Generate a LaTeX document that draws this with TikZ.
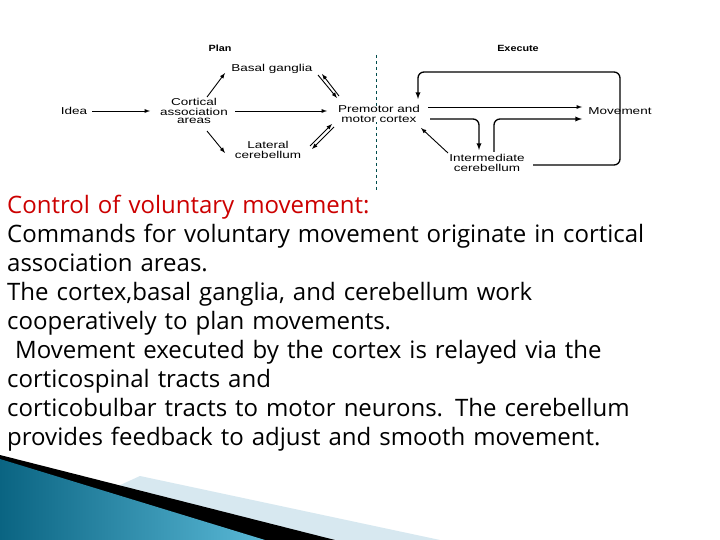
\documentclass[tikz,border=0pt]{standalone}
\usepackage{fontspec}
\setmainfont{Open Sans}
\newfontfamily\dfont{Liberation Sans}
\newcommand{\sx}[1]{\scalebox{1.35}[1]{\shortstack{#1}}}
\definecolor{tealA}{RGB}{10,100,130}
\definecolor{tealB}{RGB}{90,185,215}
\definecolor{paleB}{RGB}{215,232,240}
\begin{document}
\begin{tikzpicture}[x=1pt,y=-1pt,
  lbl/.style={font=\dfont\fontsize{10}{11}\selectfont,inner sep=0},
  hd/.style={font=\dfont\bfseries\fontsize{9}{9}\selectfont,inner sep=0},
  ar/.style={-latex,line width=0.9pt},
  br/.style={-latex,line width=1.3pt,rounded corners=6pt},
  body/.style={font=\fontsize{24}{29}\selectfont,align=left,anchor=north west,inner sep=0,text width=800pt}]
\useasboundingbox (0,0) rectangle (720,540);
\fill[white] (0,0) rectangle (720,540);
% decoration
\fill[paleB] (140,476) -- (440,540) -- (0,540) -- cycle;
\fill[black] (0,455) -- (335,540) -- (0,540) -- cycle;
\shade[left color=tealA, right color=tealB] (0,459) -- (265,540) -- (0,540) -- cycle;
% diagram
\node[hd] (plan) at (220,48) {\scalebox{1.2}[1]{Plan}};
\node[hd] (exe) at (518,48) {\scalebox{1.2}[1]{Execute}};
\node[lbl] (idea) at (74,111) {\sx{Idea}};
\node[lbl] (cort) at (194,111) {\sx{Cortical\\association\\areas}};
\node[lbl] (basal) at (272,69) {\sx{Basal ganglia}};
\node[lbl] (lat) at (268,150) {\sx{Lateral\\cerebellum}};
\coordinate (dtop) at (376,55);
\coordinate (dbot) at (376,190);
\draw[dashed,teal!60!black,thin] (dtop) -- (dbot);
\node[lbl,fill=white] (pre) at (379,114) {\sx{Premotor and\\motor cortex}};
\node[lbl] (mov) at (620,111) {\sx{Movement}};
\node[lbl] (inter) at (487,163) {\sx{Intermediate\\cerebellum}};
\draw[ar] (92,111) -- (150,111);
\draw[ar] (235,111) -- (327,111);
\draw[ar] (207,97) -- (225,73);
\draw[ar] (207,131) -- (225,153);
\draw[ar] (318,75) -- (337,98);
\draw[ar] (339,96) -- (322,74);
\draw[ar] (310,146) -- (332,124);
\draw[ar] (334,127) -- (312,149);
\draw[ar] (428,107) -- (582,107);
\draw[br] (430,119) -- (479,119) -- (479,150);
\draw[br] (494,152) -- (494,119) -- (582,119);
\draw[br] (533,165) -- (620,165) -- (620,72) -- (418,72) -- (418,99);
\draw[ar] (448,153) -- (421,128);
\node[body] (txt) at (7,195) {{\color{red!80!black}Control of voluntary movement:}\\
Commands for voluntary movement originate in cortical\\association areas.\\
The cortex,basal ganglia, and cerebellum work\\cooperatively to plan movements.\\
\ Movement executed by the cortex is relayed via the\\corticospinal tracts and\\
corticobulbar tracts to motor neurons. The cerebellum\\provides feedback to adjust and smooth movement.};
\end{tikzpicture}
\end{document}
